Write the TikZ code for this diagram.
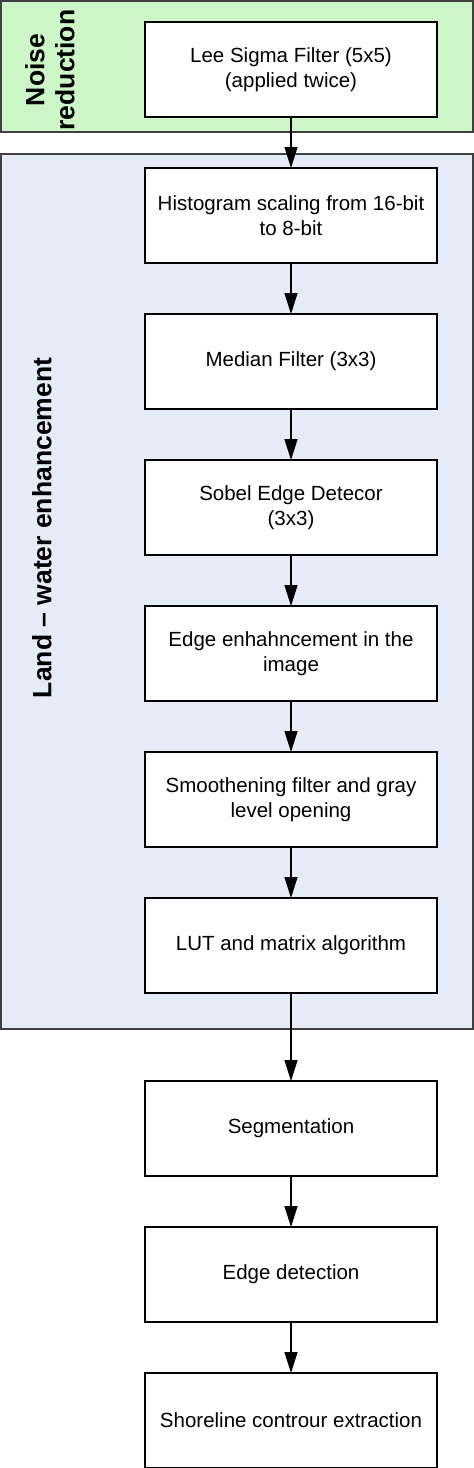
\documentclass[tikz,border=0pt]{standalone}
\usepackage{fontspec}
\setmainfont{Liberation Sans}
\usetikzlibrary{positioning,arrows.meta}
\definecolor{noisegreen}{RGB}{205,246,200}
\definecolor{landblue}{RGB}{230,236,247}

\begin{document}
\begin{tikzpicture}[x=1pt,y=-1pt,
  stage/.style={draw=black, line width=1.3pt, fill=white, minimum width=292pt, minimum height=95pt, inner sep=0pt, outer sep=0pt, align=center, font=\fontsize{20.5}{24.5}\selectfont},
  flow/.style={-{Triangle[length=21pt,width=13pt]}, line width=1.4pt},
  group/.style={draw=black!75, line width=2pt},
  tag/.style={rotate=90, align=center, font=\fontsize{26.5}{30}\selectfont\bfseries}]
\useasboundingbox (0,0) rectangle (474,1468);
\filldraw[group, fill=noisegreen] (1,1) rectangle (473,132);
\filldraw[group, fill=landblue] (1,154) rectangle (473,1029);
\node[tag] (noise) at (50,70) {Noise\\reduction};
\node[tag] (land) at (42,528) {Land -- water enhancement};

\node[stage] (lee) at (291,69.5) {Lee Sigma Filter (5x5)\\(applied twice)};
\node[stage, below=51pt of lee] (hist) {Histogram scaling from 16-bit\\to 8-bit};
\node[stage, below=51pt of hist] (median) {Median Filter (3x3)};
\node[stage, below=51pt of median] (sobel) {Sobel Edge Detecor\\(3x3)};
\node[stage, below=51pt of sobel] (enh) {Edge enhahncement in the\\image};
\node[stage, below=51pt of enh] (smooth) {Smoothening filter and gray\\level opening};
\node[stage, below=51pt of smooth] (lut) {LUT and matrix algorithm};
\node[stage, below=88pt of lut] (seg) {Segmentation};
\node[stage, below=51pt of seg] (edge) {Edge detection};
\node[stage, below=51pt of edge] (shore) {Shoreline controur extraction};

\foreach \a/\b in {lee/hist, hist/median, median/sobel, sobel/enh, enh/smooth, smooth/lut, lut/seg, seg/edge, edge/shore}
  \draw[flow] (\a) -- (\b);
\end{tikzpicture}
\end{document}
